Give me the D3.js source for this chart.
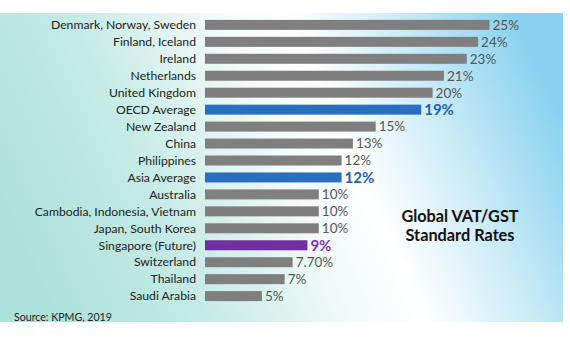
<!DOCTYPE html>
<html><head><meta charset="utf-8">
<script src="https://cdn.jsdelivr.net/npm/d3@7"></script>
<style>html,body{margin:0;padding:0;background:#fff;}svg{display:block;}</style>
</head><body>
<svg id="chart" width="570" height="337"></svg>
<script>
const categories = ["Denmark, Norway, Sweden","Finland, Iceland","Ireland","Netherlands","United Kingdom","OECD Average","New Zealand","China","Philippines","Asia Average","Australia","Cambodia, Indonesia, Vietnam","Japan, South Korea","Singapore (Future)","Switzerland","Thailand","Saudi Arabia"];
const values = [25,24,23,21,20,19,15,13,12,12,10,10,10,9,7.7,7,5];
const valueLabels = ["25%","24%","23%","21%","20%","19%","15%","13%","12%","12%","10%","10%","10%","9%","7.70%","7%","5%"];
const highlight = ["","","","","","blue","","","","blue","","","","purple","","",""];
const titleLines = ["Global VAT/GST","Standard Rates"];
const sourceText = "Source: KPMG, 2019";

const svg = d3.select("#chart");
const defs = svg.append("defs");
const g = defs.append("linearGradient").attr("id","bg").attr("x1","0").attr("y1","0.6").attr("x2","1").attr("y2","0.35");
[[0,"#ade2da"],[0.25,"#c4eae5"],[0.5,"#f2fafa"],[0.62,"#ffffff"],[0.8,"#caebf6"],[1,"#88d2ef"]].forEach(([o,c])=>g.append("stop").attr("offset",o).attr("stop-color",c));
svg.append("rect").attr("x",0).attr("y",13).attr("width",563).attr("height",309).attr("fill","url(#bg)");

const x = d3.scaleLinear().domain([0,25]).range([205,489.5]);
const y = d3.scaleBand().domain(categories).range([16.5,304.5]).paddingInner(0.41).paddingOuter(0.2);
const colors = {"":"#7f7f7f","blue":"#2a6ebf","purple":"#7030a0"};
const textColors = {"":"#555555","blue":"#1f5fb0","purple":"#7a35b0"};

const font = "Lato, 'Open Sans', sans-serif";

svg.append("g").selectAll("rect").data(categories).join("rect")
  .attr("x",x(0)).attr("y",d=>y(d)).attr("width",(d,i)=>x(values[i])-x(0)).attr("height",y.bandwidth())
  .attr("fill",(d,i)=>colors[highlight[i]]);

svg.append("g").selectAll("text").data(categories).join("text")
  .attr("x",196).attr("y",d=>y(d)+y.bandwidth()/2).attr("dy","0.35em")
  .attr("text-anchor","end").attr("font-family",font).attr("font-size",12.2).attr("fill","#222")
  .text(d=>d);

svg.append("g").selectAll("text").data(categories).join("text")
  .attr("x",(d,i)=>x(values[i])+3).attr("y",d=>y(d)+y.bandwidth()/2).attr("dy","0.36em")
  .attr("font-family",font)
  .attr("font-size",(d,i)=>highlight[i]?15:13.5)
  .attr("font-weight",(d,i)=>highlight[i]?"bold":"normal")
  .attr("fill",(d,i)=>textColors[highlight[i]])
  .text((d,i)=>valueLabels[i]);

svg.append("g").selectAll("text").data(titleLines).join("text")
  .attr("x",460).attr("y",(d,i)=>222+i*19).attr("text-anchor","middle")
  .attr("font-family",font).attr("font-weight","bold").attr("font-size",16.3).attr("fill","#111")
  .text(d=>d);

svg.append("text").attr("x",14).attr("y",321).attr("font-family",font).attr("font-size",10.6).attr("fill","#222").text(sourceText);
</script>
</body></html>
